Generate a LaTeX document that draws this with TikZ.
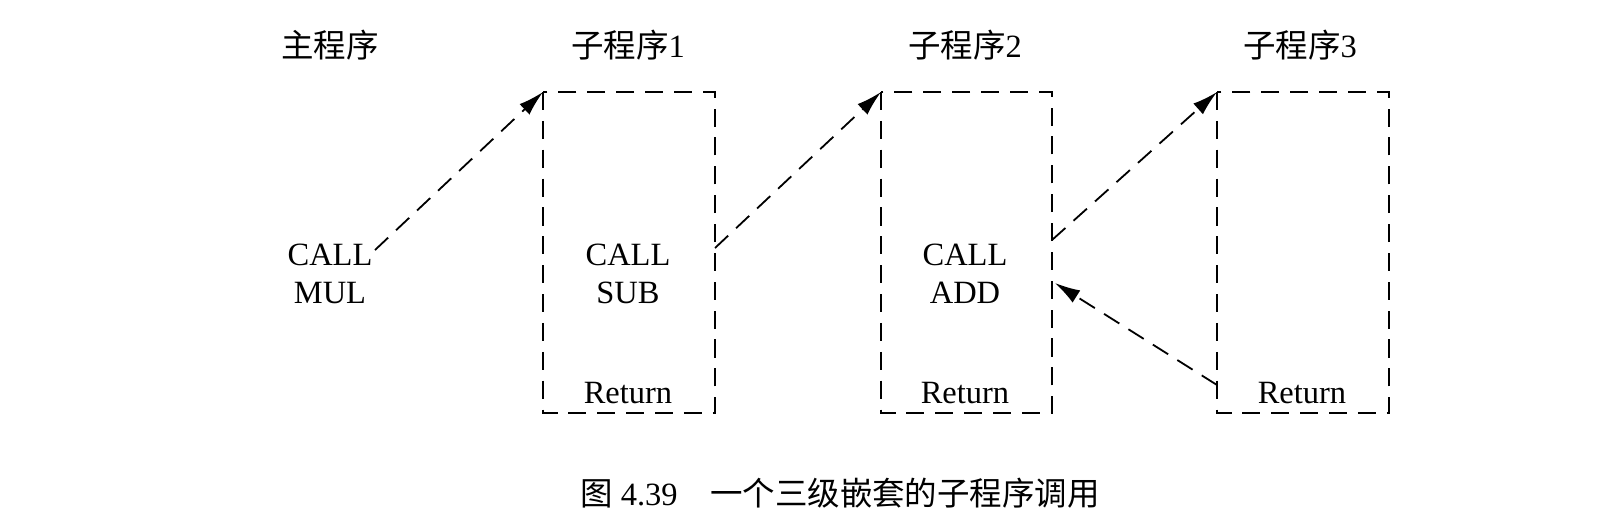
\documentclass[tikz,border=0pt]{standalone}
\usepackage{fontspec}
\setmainfont{Liberation Serif}
\newfontfamily\cjk{Noto Sans CJK SC}
\usetikzlibrary{arrows.meta}
\begin{document}
\begin{tikzpicture}[x=0.0974mm,y=-0.0974mm,
  frame/.style={draw,dashed,line width=0.5pt,dash pattern=on 5pt off 3pt},
  lbl/.style={font=\fontsize{9pt}{10.5pt}\selectfont,align=center,inner sep=1pt},
  call/.style={-{Latex[length=7pt,width=4pt]},dashed,line width=0.5pt,dash pattern=on 5pt off 3pt}]
\useasboundingbox (0,0) rectangle (1610,516);
\draw[frame] (543,92) rectangle (715,413);
\draw[frame] (881,92) rectangle (1052,413);
\draw[frame] (1217,92) rectangle (1389,413);
\coordinate (b1) at (543,92);
\coordinate (b2) at (881,92);
\coordinate (b3) at (1217,92);
\coordinate (r3) at (1217,385);
\node[lbl] (h0) at (330,45) {\cjk 主程序};
\node[lbl] (h1) at (628,45) {{\cjk 子程序}1};
\node[lbl] (h2) at (965,45) {{\cjk 子程序}2};
\node[lbl] (h3) at (1300,45) {{\cjk 子程序}3};
\node[lbl] (c0) at (330,274) {CALL\\MUL};
\node[lbl] (c1) at (628,274) {CALL\\SUB};
\node[lbl] (c2) at (965,274) {CALL\\ADD};
\node[lbl] (t1) at (628,393) {Return};
\node[lbl] (t2) at (965,393) {Return};
\node[lbl] (t3) at (1302,393) {Return};
\node[lbl] (cap) at (840,493) {{\cjk 图} 4.39\quad{\cjk 一个三级嵌套的子程序调用}};
\coordinate (s0) at (375,250);
\coordinate (s1) at (715,248);
\coordinate (s2) at (1052,240);
\coordinate (e2) at (1055,283);
\draw[call] (s0) -- (b1);
\draw[call] (s1) -- (b2);
\draw[call] (s2) -- (b3);
\draw[call] (r3) -- (e2);
\end{tikzpicture}
\end{document}
